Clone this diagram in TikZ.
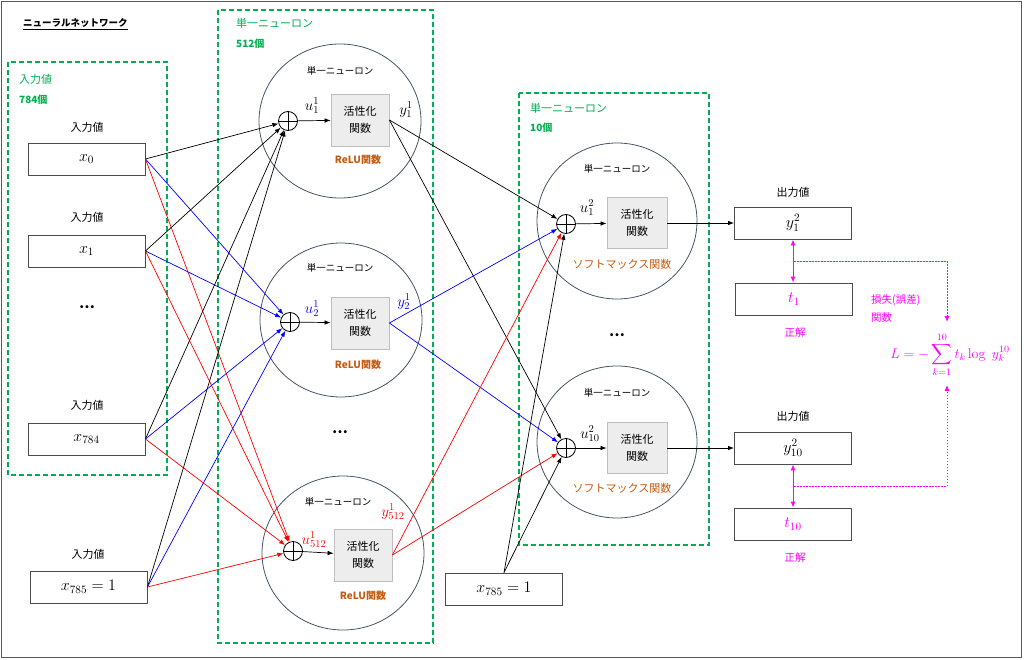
\documentclass[tikz,border=0pt]{standalone}
\usepackage{fix-cm}
\usepackage{amsmath}
\usepackage[no-math]{fontspec}
\setmainfont{Noto Sans CJK JP}
\usetikzlibrary{arrows.meta,shapes.geometric}
\definecolor{grn}{HTML}{00B050}
\definecolor{org}{HTML}{C55A11}
\definecolor{mag}{HTML}{FF00FF}
\definecolor{ring}{HTML}{44546A}
\definecolor{blu}{HTML}{0000FF}
\definecolor{rd}{HTML}{FF0000}
\newcommand\fsz[1]{\fontsize{#1}{#1}\selectfont}
\tikzset{
  inbox/.style={draw=black!70, line width=0.9pt, minimum width=117pt, minimum height=32pt, inner sep=0pt, font=\fsz{16}},
  neuron/.style={ellipse, draw=ring, line width=0.8pt, minimum width=162pt, minimum height=154pt, inner sep=0pt},
  sumc/.style={circle, draw=black, fill=white, line width=0.8pt, minimum size=19pt, inner sep=0pt,
    path picture={\draw[line width=0.8pt] (path picture bounding box.north) -- (path picture bounding box.south)
      (path picture bounding box.west) -- (path picture bounding box.east);}},
  actbox/.style={draw=black!25, fill=black!7, line width=0.8pt, minimum width=58pt, minimum height=52pt,
    align=center, font=\fontsize{11}{17}\selectfont, inner sep=0pt},
  grp/.style={draw=grn, line width=1.4pt, dash pattern=on 5pt off 3pt},
  arr/.style={-{Latex[length=6pt,width=4.5pt]}, line width=0.7pt},
  lbl/.style={font=\fsz{11}, inner sep=0pt},
  nlbl/.style={font=\fsz{9.5}, inner sep=0pt},
  glbl/.style={font=\fsz{11}, text=grn, inner sep=0pt, anchor=west},
  gnum/.style={font=\bfseries\fsz{10}, text=grn, inner sep=0pt, anchor=west},
  fn/.style={font=\bfseries\fsz{10}, text=org, inner sep=0pt},
  mlbl/.style={font=\fsz{15}, inner sep=0pt},
  mg/.style={font=\fsz{10.5}, text=mag, inner sep=0pt},
  dots/.style={font=\bfseries\fsz{14}, inner sep=0pt},
  dbl/.style={{Latex[length=6pt,width=5pt]}-{Latex[length=6pt,width=5pt]}, draw=mag, line width=1pt},
  dotarr/.style={-{Latex[length=6pt,width=5pt]}, draw=mag, line width=0.9pt, dash pattern=on 1.5pt off 1.5pt}
}
\begin{document}
\begin{tikzpicture}[x=1pt,y=-1pt]
\useasboundingbox (0,0) rectangle (1024,660);
\draw[black!65, line width=1.2pt] (1.5,1.5) rectangle (1021.5,657.5);

% title
\node[font=\bfseries\fsz{9.5}, anchor=west, inner sep=0pt] (title) at (23,24) {\underline{ニューラルネットワーク}};

% group boxes
\draw[grp] (8,62) rectangle (167,475);
\draw[grp] (218,10) rectangle (433,643);
\draw[grp] (519,93) rectangle (709,545);
\node[glbl] (g1a) at (19,79) {入力値};
\node[gnum] (g1b) at (19,100) {784個};
\node[glbl] (g2a) at (236,23) {単一ニューロン};
\node[gnum] (g2b) at (236,44) {512個};
\node[glbl] (g3a) at (530,108) {単一ニューロン};
\node[gnum] (g3b) at (530,128) {10個};

% inputs
\node[inbox] (x0) at (86.5,159) {$x_{0}$};
\node[inbox] (x1) at (86.5,251) {$x_{1}$};
\node[inbox] (x784) at (86.5,439) {$x_{784}$};
\node[inbox] (x785) at (88.5,587) {$x_{785}=1$};
\node[lbl] (lx0) at (87,127) {入力値};
\node[lbl] (lx1) at (87,217) {入力値};
\node[lbl] (lx784) at (87,405) {入力値};
\node[lbl] (lx785) at (88,554) {入力値};
\node[dots] (d1) at (87,307) {…};

% hidden neurons
\node[neuron] (n1) at (340,121) {};
\node[neuron] (n2) at (341,320) {};
\node[neuron] (n3) at (343,553) {};
\node[nlbl] (n1t) at (340,71) {単一ニューロン};
\node[nlbl] (n2t) at (340,268) {単一ニューロン};
\node[nlbl] (n3t) at (338,502) {単一ニューロン};
\node[sumc] (s1) at (288,121) {};
\node[sumc] (s2) at (290,322) {};
\node[sumc] (s3) at (293,551) {};
\node[actbox] (a1) at (360,120) {活性化\\関数};
\node[actbox] (a2) at (360,323) {活性化\\関数};
\node[actbox] (a3) at (363,555) {活性化\\関数};
\node[mlbl] (u1) at (312,106) {$u_1^1$};
\node[mlbl, text=blu] (u2) at (312,309) {$u_2^1$};
\node[mlbl, text=rd] (u3) at (314,540) {$u_{512}^1$};
\node[mlbl] (y1) at (406,110) {$y_1^1$};
\node[mlbl, text=blu] (y2) at (404,302) {$y_2^1$};
\node[mlbl, text=rd] (y3) at (393,512) {$y_{512}^1$};
\node[fn] (f1) at (358,160) {ReLU関数};
\node[fn] (f2) at (358,365) {ReLU関数};
\node[fn] (f3) at (363,596) {ReLU関数};
\node[dots] (d2) at (340,432) {…};

% output neurons
\node[neuron, minimum width=160pt, minimum height=156pt] (o1) at (617,221) {};
\node[neuron, minimum width=160pt, minimum height=152pt] (o2) at (617,442) {};
\node[nlbl] (o1t) at (617,169) {単一ニューロン};
\node[nlbl] (o2t) at (617,393) {単一ニューロン};
\node[sumc] (os1) at (566,224) {};
\node[sumc] (os2) at (566,448) {};
\node[actbox, minimum width=60pt, minimum height=51pt] (oa1) at (637,223) {活性化\\関数};
\node[actbox, minimum width=60pt, minimum height=51pt] (oa2) at (637,448) {活性化\\関数};
\node[mlbl] (ou1) at (587,208) {$u_1^2$};
\node[mlbl] (ou2) at (590,434) {$u_{10}^2$};
\node[fn, font=\fsz{11}] (of1) at (622,264) {ソフトマックス関数};
\node[fn, font=\fsz{11}] (of2) at (622,488) {ソフトマックス関数};
\node[dots] (d3) at (617,335) {…};
\node[inbox] (xb) at (504,589) {$x_{785}=1$};

% outputs
\node[inbox] (yo1) at (793,223) {$y_1^2$};
\node[inbox] (t1) at (794,299) {\color{mag}$t_1$};
\node[inbox] (yo2) at (793,448) {$y_{10}^2$};
\node[inbox] (t2) at (793,524) {\color{mag}$t_{10}$};
\node[lbl] (lo1) at (793,192) {出力値};
\node[lbl] (lo2) at (793,416) {出力値};
\node[mg] (c1) at (795,333) {正解};
\node[mg] (c2) at (795,558) {正解};
\node[mg, anchor=west] (lf1) at (871,300) {損失(誤差)};
\node[mg, anchor=west] (lf2) at (871,318) {関数};
\node[text=mag, font=\fsz{14}, inner sep=0pt] (L) at (950,355) {$\displaystyle L=-\sum_{k=1}^{10} t_k\log\; y_k^{10}$};

% input -> hidden
\foreach \s in {x0,x1,x784,x785}{
  \draw[arr] (\s.east) -- (s1);
  \draw[arr, blu] (\s.east) -- (s2);
  \draw[arr, rd] (\s.east) -- (s3);
}
\draw[arr] (s1) -- (a1);
\draw[arr] (s2) -- (a2);
\draw[arr] (s3) -- (a3);

% hidden -> output
\draw[arr] (a1.east) -- (os1);
\draw[arr] (a1.east) -- (os2);
\draw[arr, blu] (a2.east) -- (os1);
\draw[arr, blu] (a2.east) -- (os2);
\draw[arr, rd] (a3.east) -- (os1);
\draw[arr, rd] (a3.east) -- (os2);
\draw[arr] (xb.north) -- (os1);
\draw[arr] (xb.north) -- (os2);
\draw[arr] (os1) -- (oa1);
\draw[arr] (os2) -- (oa2);
\draw[arr] (oa1.east) -- (yo1.west);
\draw[arr] (oa2.east) -- (yo2.west);

% loss
\draw[dbl] (yo1.south) -- (yo1.south |- t1.north);
\draw[dbl] (yo2.south) -- (yo2.south |- t2.north);
\coordinate (m1) at (794,261);
\coordinate (m2) at (794,486);
\coordinate (e1) at (947,322);
\coordinate (e2) at (947,385);
\draw[dotarr] (m1) -| (e1);
\draw[dotarr] (m2) -| (e2);
\end{tikzpicture}
\end{document}
